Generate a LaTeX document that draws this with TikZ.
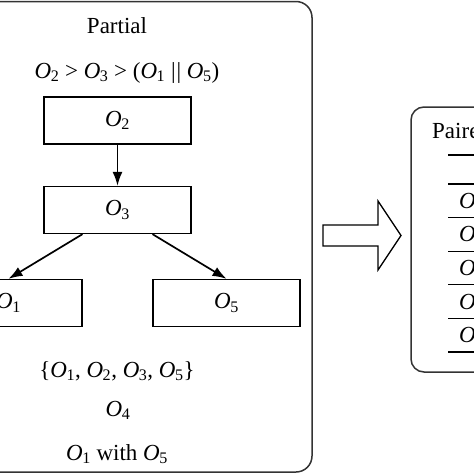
\documentclass[tikz,border=0pt]{standalone}
\usepackage{fontspec}
\setmainfont{Liberation Serif}
\usetikzlibrary{arrows.meta}
\newcommand\Ob[1]{\textit{O}\kern-0.5pt\textsubscript{#1}}
\tikzset{
  panel/.style={draw=black!80, line width=1.5pt, rounded corners=16pt},
  obox/.style={draw=black, line width=1.3pt, minimum width=147pt, minimum height=47pt, inner sep=0pt},
  arr/.style={line width=1.7pt, -{Latex[length=14pt,width=10pt]}},
  lbl/.style={inner sep=0pt, anchor=base},
  thick rule/.style={line width=2.8pt},
  thin rule/.style={line width=1.2pt},
}
\begin{document}
\begin{tikzpicture}[x=1pt,y=-1pt, font=\fontsize{23}{27}\selectfont]
\useasboundingbox (0,0) rectangle (474,474);
\clip (0,0) rectangle (474,474);
% left panel
\draw[panel] (-30,1.5) rectangle (312,472);
\node[lbl] (title) at (117,33) {Partial};
\node[lbl] (order) at (127,78) {\Ob{2} > \Ob{3} > (\Ob{1} \textbar\kern1pt\textbar{} \Ob{5})};
\node[obox] (O2) at (117.5,120.5) {\Ob{2}};
\node[obox] (O3) at (117.5,210) {\Ob{3}};
\node[obox] (O1) at (8.5,303) {\Ob{1}};
\node[obox] (O5) at (226.5,303) {\Ob{5}};
\draw[arr] (O2.south) -- (O3.north);
\draw[arr] ([xshift=-35pt]O3.south) -- (O1.north);
\draw[arr] ([xshift=35pt]O3.south) -- (O5.north);
\node[lbl] (set) at (117,377) {\{\Ob{1}, \Ob{2}, \Ob{3}, \Ob{5}\}};
\node[lbl] (o4) at (118,416) {\Ob{4}};
\node[lbl] (with) at (117,460) {\Ob{1} with \Ob{5}};
% block arrow
\draw[line width=1.3pt, line join=miter] (323,225) -- (378,225) -- (378,201) -- (401,235.5) -- (378,270) -- (378,246) -- (323,246) -- cycle;
% right panel
\draw[panel, rounded corners=13pt] (411,107) rectangle (520,372);
\node[inner sep=0pt, anchor=base west] (rtitle) at (432,138) {Paire};
\draw[thick rule] (448,155) -- (480,155);
\foreach \y in {184,217.6,251.2,284.8,318.4} \draw[thin rule] (448,\y) -- (480,\y);
\draw[thick rule] (448,352) -- (480,352);
\foreach \y/\n in {200.8/r1,234.4/r2,268/r3,301.6/r4,335.2/r5}
  \node[inner sep=0pt, anchor=west] (\n) at (459,\y) {\textit{O}};
\end{tikzpicture}
\end{document}
